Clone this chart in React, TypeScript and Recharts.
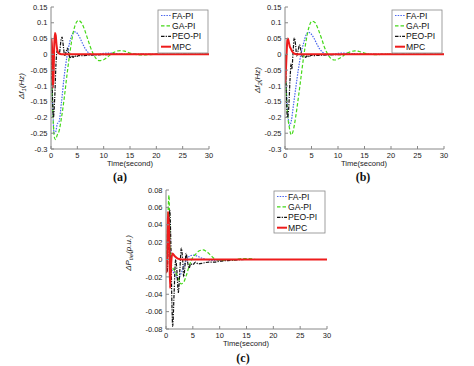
import React from 'react';
import { LineChart, Line, XAxis, YAxis } from 'recharts';

type P = [number, number];

const FONT = 'Liberation Sans, Arial, sans-serif';
const seriesNames = ['FA-PI', 'GA-PI', 'PEO-PI', 'MPC'];
const xTicks = [0, 5, 10, 15, 20, 25, 30];
const yTicksF = [-0.3, -0.25, -0.2, -0.15, -0.1, -0.05, 0, 0.05, 0.1, 0.15];
const yTicksP = [-0.08, -0.06, -0.04, -0.02, 0, 0.02, 0.04, 0.06, 0.08];

// Panel (a): Δf1
const faA: P[] = [[0,0],[0.3,-0.15],[0.6,-0.25],[0.9,-0.245],[1.2,-0.22],[1.5,-0.215],[2,-0.15],[2.5,-0.07],[3,-0.01],[3.5,0.035],[4,0.062],[4.5,0.071],[5,0.066],[5.5,0.052],[6,0.034],[6.5,0.018],[7,0.007],[7.5,0.001],[8,-0.002],[9,0],[10,0.003],[11,0.004],[12,0.003],[13,0.001],[15,0],[30,0]];
const gaA: P[] = [[0,0],[0.3,-0.16],[0.6,-0.26],[0.85,-0.27],[1.2,-0.255],[1.5,-0.245],[2,-0.2],[2.5,-0.14],[3,-0.07],[3.5,-0.005],[4,0.05],[4.5,0.088],[5.2,0.107],[5.8,0.1],[6.5,0.072],[7,0.047],[7.5,0.022],[8,0.002],[8.5,-0.012],[9.2,-0.02],[10,-0.017],[10.8,-0.008],[11.5,0.002],[12.3,0.009],[13.2,0.012],[14,0.01],[15,0.004],[16,0],[17,-0.002],[18.5,-0.001],[20,0],[30,0]];
const peoA: P[] = [[0,0],[0.2,-0.09],[0.45,-0.2],[0.7,-0.14],[0.95,-0.03],[1.15,0.012],[1.4,0.003],[1.6,0.005],[1.9,0.045],[2.1,0.055],[2.35,0.025],[2.6,-0.005],[2.9,0.01],[3.1,0.02],[3.35,0.005],[3.6,-0.012],[3.9,-0.005],[4.2,-0.01],[4.5,-0.004],[4.8,-0.008],[5.2,-0.004],[6,-0.004],[7,-0.003],[8,-0.002],[10,-0.001],[12,0],[30,0]];
const mpcA: P[] = [[0,0],[0.1,0.05],[0.2,0.02],[0.3,-0.08],[0.4,-0.105],[0.5,-0.06],[0.6,0.02],[0.75,0.068],[0.9,0.06],[1.05,0.03],[1.25,0.01],[1.5,0.003],[2,0],[30,0]];

// Panel (b): Δf2
const faB: P[] = [[0,0],[0.3,-0.12],[0.6,-0.2],[0.9,-0.225],[1.2,-0.21],[1.6,-0.16],[2,-0.11],[2.5,-0.05],[3,0],[3.5,0.035],[4,0.062],[4.4,0.07],[5,0.063],[5.5,0.05],[6,0.033],[6.5,0.018],[7,0.008],[7.5,0.002],[8,-0.001],[9,0],[10,0.003],[11,0.004],[12,0.003],[13,0.002],[15,0],[30,0]];
const gaB: P[] = [[0,0],[0.4,-0.17],[0.8,-0.23],[1.2,-0.255],[1.5,-0.245],[2,-0.2],[2.5,-0.14],[3,-0.075],[3.5,-0.01],[4,0.045],[4.5,0.085],[5.1,0.105],[5.7,0.1],[6.3,0.078],[7,0.045],[7.5,0.02],[8,0.002],[8.6,-0.012],[9.3,-0.018],[10,-0.015],[10.8,-0.007],[11.5,0.002],[12.3,0.008],[13.2,0.011],[14,0.009],[15,0.004],[16,0],[17,-0.001],[19,0],[30,0]];
const peoB: P[] = [[0,0],[0.2,-0.1],[0.45,-0.2],[0.7,-0.17],[0.95,-0.08],[1.15,-0.03],[1.3,-0.045],[1.5,0],[1.75,0.052],[2,0.03],[2.2,-0.005],[2.45,0.01],[2.75,0.03],[3,0.012],[3.3,-0.008],[3.6,-0.002],[3.9,-0.01],[4.2,-0.003],[4.5,-0.008],[4.9,-0.003],[5.5,-0.004],[6.5,-0.003],[8,-0.002],[10,-0.001],[12,0],[30,0]];
const mpcB: P[] = [[0,-0.005],[0.05,-0.09],[0.15,-0.06],[0.3,0],[0.45,0.045],[0.55,0.05],[0.7,0.04],[0.9,0.025],[1.1,0.018],[1.4,0.008],[1.8,0.002],[2.5,0],[30,0]];

// Panel (c): ΔPtie
const faC: P[] = [[0,0],[0.2,0.01],[0.45,0.045],[0.6,0.05],[0.8,0.01],[1,-0.01],[1.4,-0.015],[1.9,-0.02],[2.3,-0.022],[2.8,-0.016],[3.3,-0.008],[3.8,-0.001],[4.4,0.004],[5,0.005],[5.8,0.004],[6.5,0.002],[7.5,0],[8.5,-0.001],[10,-0.001],[12,0],[30,0]];
const gaC: P[] = [[0,0],[0.2,0.02],[0.45,0.065],[0.55,0.074],[0.75,0.02],[0.95,-0.005],[1.3,-0.01],[1.8,-0.015],[2.3,-0.022],[2.8,-0.028],[3.3,-0.026],[3.8,-0.018],[4.3,-0.008],[4.8,0],[5.5,0.006],[6.2,0.01],[6.9,0.011],[7.6,0.009],[8.3,0.005],[9,0.001],[10,-0.001],[11.5,-0.001],[13,0],[14.2,0.001],[15.5,0.001],[17,0],[30,0]];
const peoC: P[] = [[0,0],[0.2,-0.015],[0.5,0.03],[0.7,0.057],[0.9,0.02],[1.1,-0.05],[1.25,-0.077],[1.5,-0.04],[1.8,0],[2,-0.01],[2.3,-0.038],[2.6,-0.01],[2.85,0.013],[3.1,0],[3.3,-0.02],[3.5,-0.01],[3.75,0.007],[4,-0.002],[4.3,-0.01],[4.6,-0.005],[5,-0.006],[5.5,-0.003],[6,-0.005],[7,-0.004],[8,-0.003],[9,-0.003],[10,-0.002],[12,-0.001],[15,0],[30,0]];
const mpcC: P[] = [[0,0],[0.15,-0.015],[0.35,0.055],[0.55,0.04],[0.75,-0.033],[0.95,-0.005],[1.2,0.007],[1.6,0.004],[2.2,0.001],[3,0],[30,0]];

const styles = [
  { stroke: '#4a66ee', dash: '1.5 1.2', width: 1.2 },
  { stroke: '#44d818', dash: '3.5 2', width: 1.2 },
  { stroke: '#111111', dash: '3.5 1.2 1.2 1.2', width: 1.2 },
  { stroke: '#ee1c1c', dash: undefined as string | undefined, width: 2 },
];

const toObj = (arr: P[]) => arr.map(([t, v]) => ({ t, v }));
const fmt = (v: number) => String(Math.round(v * 100) / 100);

const AX = '#888';
const tickStyle = { fontSize: 7.5, fill: '#222', fontFamily: FONT };

type PanelProps = {
  left: number; top: number; width: number; height: number;
  margin: { top: number; right: number; left: number; bottom: number };
  yWidth: number; xHeight: number; yDomain: [number, number]; yTicks: number[];
  series: P[][];
};

function Panel(p: PanelProps) {
  return (
    <div style={{ position: 'absolute', left: p.left, top: p.top }}>
      <LineChart width={p.width} height={p.height} margin={p.margin}>
        <XAxis xAxisId="b" type="number" dataKey="t" domain={[0, 30]} ticks={xTicks} interval={0}
          height={p.xHeight} tickSize={-3} tickMargin={6.5} stroke={AX} tick={tickStyle} allowDataOverflow />
        <XAxis xAxisId="t" orientation="top" type="number" dataKey="t" domain={[0, 30]} ticks={xTicks}
          interval={0} height={0} tickSize={-3} tick={false} stroke={AX} allowDataOverflow />
        <YAxis yAxisId="l" type="number" domain={p.yDomain} ticks={p.yTicks} interval={0} width={p.yWidth}
          tickSize={-3} tickMargin={6.5} stroke={AX} tick={tickStyle} tickFormatter={fmt} allowDataOverflow />
        <YAxis yAxisId="r" orientation="right" type="number" domain={p.yDomain} ticks={p.yTicks} interval={0}
          width={0} tickSize={-3} tick={false} stroke={AX} allowDataOverflow />
        {p.series.map((s, i) => (
          <Line key={seriesNames[i]} xAxisId="b" yAxisId="l" data={toObj(s)} dataKey="v" name={seriesNames[i]}
            type="monotone" stroke={styles[i].stroke} strokeWidth={styles[i].width}
            strokeDasharray={styles[i].dash} dot={false} activeDot={false} isAnimationActive={false} />
        ))}
      </LineChart>
    </div>
  );
}

function LegendBox({ x, y, w, h }: { x: number; y: number; w: number; h: number }) {
  return (
    <g>
      <rect x={x} y={y} width={w} height={h} fill="#fff" stroke={AX} strokeWidth={0.8} />
      {seriesNames.map((n, i) => {
        const cy = y + 5.5 + i * 10.4;
        return (
          <g key={n}>
            <line x1={x + 3} x2={x + 13} y1={cy} y2={cy} stroke={styles[i].stroke}
              strokeWidth={styles[i].width} strokeDasharray={styles[i].dash} />
            <text x={x + 14} y={cy + 3} fontSize={8.6} fontFamily={FONT} fill="#111">{n}</text>
          </g>
        );
      })}
    </g>
  );
}

function YLabel({ x, y, base, sub, unit }: { x: number; y: number; base: string; sub: string; unit: string }) {
  return (
    <text transform={`translate(${x},${y}) rotate(-90)`} textAnchor="middle" fontSize={8}
      fontFamily={FONT} fontStyle="italic" fill="#222">
      {base}<tspan fontSize={6} dy={2}>{sub}</tspan><tspan dy={-2}>{unit}</tspan>
    </text>
  );
}

export default function App() {
  return (
    <div style={{ position: 'absolute', left: 0, top: 0, width: 474, height: 366, background: '#fff' }}>
      <Panel left={0} top={0} width={237} height={175} margin={{ top: 7, right: 28, left: 0, bottom: 0 }}
        yWidth={51} xHeight={26} yDomain={[-0.3, 0.15]} yTicks={yTicksF} series={[faA, gaA, peoA, mpcA]} />
      <Panel left={237} top={0} width={237} height={175} margin={{ top: 7, right: 30, left: 0, bottom: 0 }}
        yWidth={48} xHeight={26} yDomain={[-0.3, 0.15]} yTicks={yTicksF} series={[faB, gaB, peoB, mpcB]} />
      <Panel left={110} top={175} width={250} height={180} margin={{ top: 15, right: 33, left: 0, bottom: 0 }}
        yWidth={56} xHeight={26} yDomain={[-0.08, 0.08]} yTicks={yTicksP} series={[faC, gaC, peoC, mpcC]} />
      <svg width={474} height={366} style={{ position: 'absolute', left: 0, top: 0, pointerEvents: 'none' }}>
        <LegendBox x={158} y={10} w={50} h={43} />
        <LegendBox x={392} y={10} w={50} h={43} />
        <LegendBox x={274} y={191} w={51} h={42} />
        <YLabel x={24} y={86} base="Δf" sub="1" unit="(Hz)" />
        <YLabel x={260} y={80} base="Δf" sub="2" unit="(Hz)" />
        <YLabel x={131} y={253} base="ΔP" sub="tie" unit="(p.u.)" />
        <text x={130} y={166} textAnchor="middle" fontSize={7.6} fontFamily={FONT} fill="#222">Time(second)</text>
        <text x={364} y={166} textAnchor="middle" fontSize={7.6} fontFamily={FONT} fill="#222">Time(second)</text>
        <text x={246} y={346} textAnchor="middle" fontSize={7.6} fontFamily={FONT} fill="#222">Time(second)</text>
        <text x={120} y={181} textAnchor="middle" fontSize={12} fontWeight="bold" fontFamily="Liberation Serif, serif" fill="#111">(a)</text>
        <text x={363} y={181} textAnchor="middle" fontSize={12} fontWeight="bold" fontFamily="Liberation Serif, serif" fill="#111">(b)</text>
        <text x={243} y={362} textAnchor="middle" fontSize={12} fontWeight="bold" fontFamily="Liberation Serif, serif" fill="#111">(c)</text>
      </svg>
    </div>
  );
}
